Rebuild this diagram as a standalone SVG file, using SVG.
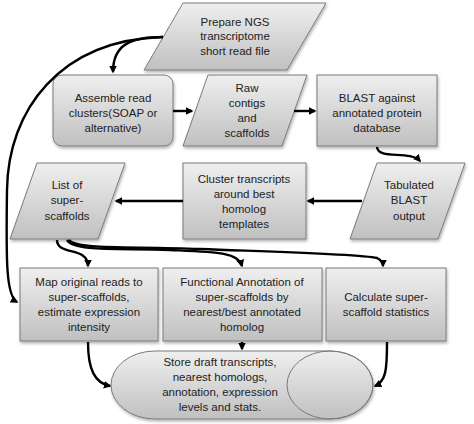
<svg xmlns="http://www.w3.org/2000/svg" width="474" height="424" viewBox="0 0 474 424">
<defs>
<linearGradient id="g" x1="0" y1="0" x2="0" y2="1">
<stop offset="0" stop-color="#efefef"/>
<stop offset="1" stop-color="#c0c0c0"/>
</linearGradient>
<filter id="sh" x="-10%" y="-10%" width="125%" height="130%">
<feDropShadow dx="1" dy="2" stdDeviation="1.5" flood-color="#000" flood-opacity="0.3"/>
</filter>
<marker id="ah" viewBox="0 0 10 10" refX="8" refY="5" markerWidth="3.2" markerHeight="3.2" orient="auto" markerUnits="strokeWidth">
<path d="M0,0 L10,5 L0,10 Z" fill="#000"/>
</marker>
</defs>
<style>
.shape{fill:url(#g);stroke:#7a7a7a;stroke-width:1;filter:url(#sh)}
.t{font-family:"Liberation Sans",Arial,sans-serif;font-size:11.5px;fill:#222;text-anchor:middle}
.c{fill:none;stroke:#000;stroke-width:2.4;marker-end:url(#ah)}
</style>
<rect width="474" height="424" fill="#fff"/>

<g id="prepare">
<polygon class="shape" points="183,3 326,3 287,70 144,70"/>
<text class="t" x="235" y="26">Prepare NGS</text>
<text class="t" x="235" y="40">transcriptome</text>
<text class="t" x="235" y="55">short read file</text>
</g>

<g id="assemble">
<rect class="shape" x="53" y="75" width="120" height="71" rx="9"/>
<text class="t" x="113" y="102">Assemble read</text>
<text class="t" x="113" y="117">clusters(SOAP or</text>
<text class="t" x="113" y="132">alternative)</text>
</g>

<g id="raw">
<polygon class="shape" points="208,75 307,75 282,146 183,146"/>
<text class="t" x="247" y="92">Raw</text>
<text class="t" x="247" y="107">contigs</text>
<text class="t" x="247" y="122">and</text>
<text class="t" x="247" y="137">scaffolds</text>
</g>

<g id="blast">
<rect class="shape" x="317" y="75" width="120" height="71"/>
<text class="t" x="377" y="102">BLAST against</text>
<text class="t" x="377" y="117">annotated protein</text>
<text class="t" x="377" y="132">database</text>
</g>

<g id="tabulated">
<polygon class="shape" points="377,163 465,163 438,239 350,239"/>
<text class="t" x="409" y="189">Tabulated</text>
<text class="t" x="409" y="204">BLAST</text>
<text class="t" x="409" y="220">output</text>
</g>

<g id="cluster">
<rect class="shape" x="183" y="163" width="123" height="76"/>
<text class="t" x="244" y="183">Cluster transcripts</text>
<text class="t" x="244" y="198">around best</text>
<text class="t" x="244" y="213">homolog</text>
<text class="t" x="244" y="228">templates</text>
</g>

<g id="list">
<polygon class="shape" points="37,163 125,163 98,239 10,239"/>
<text class="t" x="67" y="189">List of</text>
<text class="t" x="67" y="204">super-</text>
<text class="t" x="67" y="220">scaffolds</text>
</g>

<g id="map">
<rect class="shape" x="20" y="268" width="138" height="73"/>
<text class="t" x="89" y="286">Map original reads to</text>
<text class="t" x="89" y="301">super-scaffolds,</text>
<text class="t" x="89" y="316">estimate expression</text>
<text class="t" x="89" y="331">intensity</text>
</g>

<g id="functional">
<rect class="shape" x="163" y="268" width="159" height="73"/>
<text class="t" x="242" y="286">Functional Annotation of</text>
<text class="t" x="242" y="301">super-scaffolds by</text>
<text class="t" x="242" y="316">nearest/best annotated</text>
<text class="t" x="242" y="331">homolog</text>
</g>

<g id="calculate">
<rect class="shape" x="326" y="268" width="120" height="73"/>
<text class="t" x="386" y="301">Calculate super-</text>
<text class="t" x="386" y="316">scaffold statistics</text>
</g>

<g id="store">
<path class="shape" d="M155,351 L330,351 A43,34 0 0 1 330,419 L155,419 A44,34 0 0 1 155,351 Z"/>
<ellipse cx="330" cy="385" rx="43" ry="34" fill="none" stroke="#7a7a7a" stroke-width="1"/>
<text class="t" x="220" y="366">Store draft transcripts,</text>
<text class="t" x="220" y="381">nearest homologs,</text>
<text class="t" x="220" y="396">annotation, expression</text>
<text class="t" x="220" y="411">levels and stats.</text>
</g>

<g id="connectors">
<path class="c" d="M163,37 C130,37 113,45 113,72"/>
<path class="c" d="M163,37 C60,40 8,110 7,190 C6,260 6,296 17,302"/>
<path class="c" d="M173,111 L192,111"/>
<path class="c" d="M294,111 L315,111"/>
<path class="c" d="M377,147 C378,160 410,150 420,161"/>
<path class="c" d="M362,201 L308,201"/>
<path class="c" d="M183,201 L116,201"/>
<path class="c" d="M57,240 C57,256 88,246 88,266"/>
<path class="c" d="M67,240 C75,252 120,248 170,250 C215,252 238,252 242,266"/>
<path class="c" d="M69,240 C78,250 130,246 200,249 C280,252 360,254 377,258 C381,260 383,262 383,266"/>
<path class="c" d="M88,342 C88,370 95,383 110,386"/>
<path class="c" d="M242,342 L242,349"/>
<path class="c" d="M387,342 C387,370 386,381 375,386"/>
</g>
</svg>
